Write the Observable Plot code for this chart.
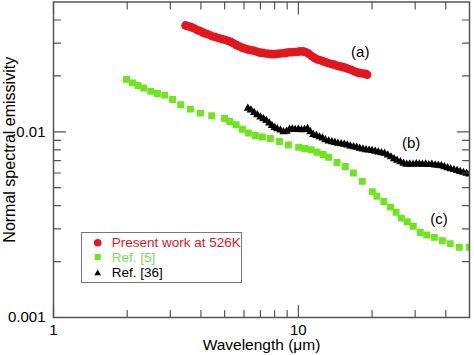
<!DOCTYPE html>
<html><head><meta charset="utf-8">
<script src="https://cdn.jsdelivr.net/npm/d3@7"></script>
<script src="https://cdn.jsdelivr.net/npm/@observablehq/plot@0.6"></script>
<style>
html,body{margin:0;padding:0;background:#fff;}
#wrap{position:relative;width:474px;height:355px;font-family:"Liberation Sans",Arial,sans-serif;}
#legend{position:absolute;left:81px;top:232px;}
</style></head><body><div id="wrap"></div>
<script>
// (a) Present work at 526K
const redX = [3.46,3.55,3.65,3.75,3.86,3.97,4.08,4.2,4.32,4.45,4.58,4.72,4.86,5.0,5.15,5.3,5.45,5.6,5.76,5.92,6.08,6.25,6.43,6.6,6.78,6.97,7.16,7.36,7.56,7.77,7.98,8.2,8.43,8.66,8.9,9.14,9.39,9.65,9.91,10.18,10.46,10.74,11.03,11.33,11.64,11.95,12.28,12.61,12.95,13.3,13.66,14.03,14.41,14.8,15.2,15.62,16.04,16.48,16.93,17.39,17.86,18.34,18.84,19.1];
const redY = [0.0374,0.0370,0.0366,0.0361,0.0353,0.0349,0.0342,0.0337,0.0333,0.0327,0.0324,0.0320,0.0316,0.0313,0.0309,0.0305,0.0299,0.0293,0.0288,0.0283,0.0280,0.0277,0.0275,0.0273,0.0270,0.0267,0.0266,0.0264,0.0263,0.0262,0.0262,0.0263,0.0264,0.0265,0.0266,0.0268,0.0268,0.0269,0.0270,0.0271,0.0271,0.0268,0.0263,0.0256,0.0250,0.0245,0.0243,0.0240,0.0237,0.0234,0.0232,0.0230,0.0227,0.0225,0.0223,0.0221,0.0218,0.0215,0.0212,0.0209,0.0207,0.0206,0.0205,0.0203];
// (c) Ref. [5]
const greenX = [1.986,2.101,2.213,2.337,2.495,2.658,2.847,3.065,3.308,3.624,3.981,4.427,4.998,5.244,5.569,5.907,6.251,6.676,7.131,7.687,8.364,9.104,10.03,10.63,11.27,11.92,12.61,13.30,14.39,15.55,16.77,18.25,20.05,20.92,22.34,23.79,25.07,26.33,27.86,29.48,31.47,33.46,35.91,38.70,41.73,45.41,49.9];
const greenY = [0.01915,0.01834,0.01777,0.01719,0.01650,0.01609,0.01576,0.01494,0.01398,0.01324,0.01260,0.01220,0.01180,0.01137,0.01091,0.01033,0.00985,0.00955,0.00937,0.00920,0.00886,0.00849,0.00825,0.00813,0.00800,0.00776,0.00754,0.00730,0.00683,0.00650,0.00600,0.00541,0.00476,0.00450,0.00421,0.00393,0.00369,0.00343,0.00328,0.00310,0.00287,0.00278,0.00270,0.00259,0.00250,0.00239,0.00239];
// (b) Ref. [36]
const blackX = [6.22,6.4,6.6,6.8,7.0,7.2,7.4,7.6,7.8,8.0,8.2,8.45,8.7,8.95,9.2,9.45,9.7,10.0,10.3,10.6,10.9,11.2,11.5,11.85,12.2,12.55,12.9,13.3,13.7,14.1,14.5,14.95,15.4,15.85,16.3,16.8,17.3,17.8,18.35,18.9,19.45,20.0,20.6,21.2,21.85,22.5,23.2,23.9,24.6,25.3,26.1,26.9,27.7,28.5,29.4,30.3,31.2,32.1,33.1,34.1,35.1,36.2,37.3,38.4,39.5,40.7,41.9,43.2,44.5,45.8,47.2,48.6,50.0];
const blackY = [0.01336,0.01310,0.01270,0.01235,0.01199,0.01175,0.01148,0.01115,0.01080,0.01055,0.01038,0.01020,0.01000,0.01005,0.01030,0.01035,0.01028,0.01032,0.01025,0.01028,0.01040,0.01000,0.00967,0.00955,0.00938,0.00925,0.00905,0.00892,0.00882,0.00875,0.00868,0.00862,0.00855,0.00848,0.00838,0.00830,0.00824,0.00815,0.00808,0.00800,0.00796,0.00792,0.00785,0.00778,0.00770,0.00765,0.00750,0.00732,0.00715,0.00702,0.00690,0.00676,0.00668,0.00670,0.00668,0.00672,0.00670,0.00668,0.00670,0.00665,0.00668,0.00662,0.00660,0.00655,0.00648,0.00640,0.00632,0.00625,0.00618,0.00611,0.00604,0.00598,0.00592];

const seriesNames = ["Present work at 526K", "Ref. [5]", "Ref. [36]"];
const seriesColors = ["#e3161e", "#6ee61e", "#000000"];
const legendTextColors = ["#e3161e", "#7ddc55", "#000000"];

const annoLabels = ["(a)", "(b)", "(c)"];
const annoX = [17.9, 28.9, 37.5];
const annoY = [0.0268, 0.00865, 0.00339];

const xMajorTicks = [1, 10];
const xMinorTicks = [2,3,4,5,6,7,8,9,20,30,40];
const yMajorTicks = [0.001, 0.01];
const yMinorTicks = [0.002,0.003,0.004,0.005,0.006,0.007,0.008,0.009,0.02,0.03,0.04];
const xTickLabels = ["1", "10"];
const yTickLabels = ["0.001", "0.01"];
const xLabel = "Wavelength (\u03bcm)";
const yLabel = "Normal spectral emissivity";

const zip = (xs, ys) => xs.map((x, i) => ({x, y: ys[i]}));
const red = zip(redX, redY), green = zip(greenX, greenY), black = zip(blackX, blackY);
const annos = annoLabels.map((t, i) => ({t, x: annoX[i], y: annoY[i]}));

const tickShape = {draw(ctx, l) { ctx.moveTo(0, 0); ctx.lineTo(0, -l); }};
const tickColor = "#555";
function ticks(values, dim, len) {
  const out = [];
  const base = {length: len, anchor: "start", shape: tickShape, stroke: tickColor, strokeWidth: 1.2};
  if (dim === "x") {
    out.push(Plot.vector(values, {...base, x: d => d, frameAnchor: "bottom", rotate: 0}));
    out.push(Plot.vector(values, {...base, x: d => d, frameAnchor: "top", rotate: 180}));
  } else {
    out.push(Plot.vector(values, {...base, y: d => d, frameAnchor: "left", rotate: 90}));
    out.push(Plot.vector(values, {...base, y: d => d, frameAnchor: "right", rotate: -90}));
  }
  return out;
}

const chart = Plot.plot({
  width: 474, height: 355,
  marginLeft: 53, marginRight: 5, marginTop: 1.5, marginBottom: 38,
  x: {type: "log", domain: [1, 50]},
  y: {type: "log", domain: [0.001, 0.05]},
  style: {fontFamily: "'Liberation Sans', Arial, sans-serif", fontSize: "15px", color: "#000", background: "#fff", overflow: "visible"},
  marks: [
    Plot.dot(green, {x: "x", y: "y", symbol: "square", r: 3.9, fill: seriesColors[1], clip: true}),
    Plot.dot(black, {x: "x", y: "y", symbol: "triangle", r: 3.1, fill: seriesColors[2], clip: true}),
    Plot.dot(red, {x: "x", y: "y", r: 4.3, fill: seriesColors[0]}),
    ...ticks(xMajorTicks, "x", 12),
    ...ticks(xMinorTicks, "x", 7),
    ...ticks(yMajorTicks, "y", 12),
    ...ticks(yMinorTicks, "y", 7),
    Plot.frame({stroke: tickColor, strokeWidth: 1.5}),
    Plot.axisX({ticks: xMajorTicks, tickSize: 0, tickPadding: 7, tickFormat: d => xTickLabels[xMajorTicks.indexOf(d)], label: null, fontSize: 15}),
    Plot.axisY({ticks: yMajorTicks, tickSize: 0, tickPadding: 8, tickFormat: d => yTickLabels[yMajorTicks.indexOf(d)], label: null, fontSize: 15}),
    Plot.text([xLabel], {frameAnchor: "bottom", dy: 28, textAnchor: "middle", lineAnchor: "middle", fontSize: 15.5}),
    Plot.text([yLabel], {frameAnchor: "left", dx: -44, dy: -10, rotate: -90, textAnchor: "middle", lineAnchor: "middle", fontSize: 16}),
    Plot.text(annos, {x: "x", y: "y", text: "t", fontSize: 15})
  ]
});
const wrap = document.getElementById("wrap");
wrap.appendChild(chart);

// legend overlay
const ns = "http://www.w3.org/2000/svg";
const lg = document.createElementNS(ns, "svg");
lg.setAttribute("id", "legend");
lg.setAttribute("width", 162); lg.setAttribute("height", 52);
const rows = [10.7, 25, 40.7];
let html = `<rect x="0.5" y="0.5" width="160" height="50" fill="#fff" stroke="#777" stroke-width="1"/>`;
html += `<circle cx="16.7" cy="${rows[0]}" r="3.8" fill="${seriesColors[0]}"/>`;
html += `<rect x="13.7" y="${rows[1]-3}" width="6" height="6" fill="${seriesColors[1]}"/>`;
html += `<path d="M16.7,${rows[2]-3.3}L20,${rows[2]+2.5}L13.4,${rows[2]+2.5}Z" fill="${seriesColors[2]}"/>`;
seriesNames.forEach((n, i) => {
  html += `<text x="30.7" y="${rows[i]}" dy="0.35em" font-size="13.5" font-family="'Liberation Sans', Arial, sans-serif" fill="${legendTextColors[i]}">${n}</text>`;
});
lg.innerHTML = html;
wrap.appendChild(lg);
</script></body></html>
